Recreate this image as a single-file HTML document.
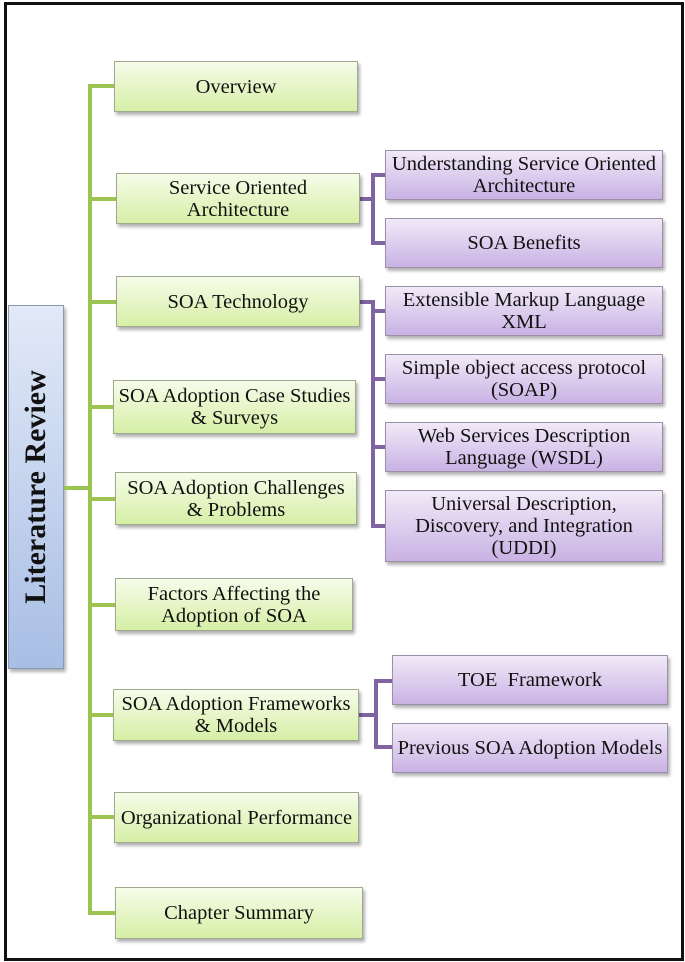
<!DOCTYPE html>
<html><head><style>
body{margin:0;width:685px;height:962px;background:#fff;position:relative;overflow:hidden;font-family:"Liberation Serif","DejaVu Serif",serif;}
.frame{position:absolute;left:4px;top:2px;width:674px;height:953px;border:3px solid #111;}
.b{position:absolute;box-sizing:border-box;display:flex;align-items:center;justify-content:center;text-align:center;font-family:"Liberation Serif","DejaVu Serif",serif;font-size:20.5px;line-height:22px;color:#111;box-shadow:2px 3px 3px rgba(0,0,0,0.3);white-space:nowrap;}
.g{background:linear-gradient(#f6fcea,#d6efa6);border:1px solid #a0a890;}
.p{background:linear-gradient(#f1eaf8,#c9b2e4);border:1px solid #9a90a8;}
.l{position:absolute;}
.gl{background:#9bc453;}
.pl{background:#8064a2;}
</style></head><body>
<div class="frame"></div>
<div class="b" style="left:8px;top:305px;width:56px;height:364px;background:linear-gradient(#e2e9f7,#a8bee5);border:1px solid #8a98b0;">
<div style="transform:rotate(-90deg);white-space:nowrap;font-weight:bold;font-size:30px;">Literature Review</div></div>
<div class="l gl" style="left:64px;top:486px;width:28px;height:4px"></div>
<div class="l gl" style="left:88px;top:84px;width:4px;height:831px"></div>
<div class="l gl" style="left:88px;top:84px;width:27px;height:4px"></div>
<div class="l gl" style="left:88px;top:197px;width:28px;height:4px"></div>
<div class="l gl" style="left:88px;top:300px;width:28px;height:4px"></div>
<div class="l gl" style="left:88px;top:405px;width:26px;height:4px"></div>
<div class="l gl" style="left:88px;top:497px;width:28px;height:4px"></div>
<div class="l gl" style="left:88px;top:603px;width:28px;height:4px"></div>
<div class="l gl" style="left:88px;top:713px;width:26px;height:4px"></div>
<div class="l gl" style="left:88px;top:815px;width:28px;height:4px"></div>
<div class="l gl" style="left:88px;top:911px;width:28px;height:4px"></div>
<div class="l pl" style="left:360px;top:197px;width:15px;height:4px"></div>
<div class="l pl" style="left:371px;top:173px;width:4px;height:72px"></div>
<div class="l pl" style="left:371px;top:173px;width:15px;height:4px"></div>
<div class="l pl" style="left:371px;top:241px;width:15px;height:4px"></div>
<div class="l pl" style="left:360px;top:300px;width:15px;height:4px"></div>
<div class="l pl" style="left:371px;top:300px;width:4px;height:228px"></div>
<div class="l pl" style="left:371px;top:309px;width:15px;height:4px"></div>
<div class="l pl" style="left:371px;top:377px;width:15px;height:4px"></div>
<div class="l pl" style="left:371px;top:445px;width:15px;height:4px"></div>
<div class="l pl" style="left:371px;top:524px;width:15px;height:4px"></div>
<div class="l pl" style="left:358px;top:713px;width:20px;height:4px"></div>
<div class="l pl" style="left:374px;top:679px;width:4px;height:70px"></div>
<div class="l pl" style="left:374px;top:679px;width:18px;height:4px"></div>
<div class="l pl" style="left:374px;top:745px;width:18px;height:4px"></div>
<div class="b g" style="left:114px;top:61px;width:244px;height:51px">Overview</div>
<div class="b g" style="left:116px;top:173px;width:244px;height:51px">Service Oriented<br>Architecture</div>
<div class="b g" style="left:116px;top:276px;width:244px;height:51px">SOA Technology</div>
<div class="b g" style="left:113px;top:380px;width:243px;height:54px">SOA Adoption Case Studies<br>&amp; Surveys</div>
<div class="b g" style="left:115px;top:472px;width:242px;height:53px">SOA Adoption Challenges<br>&amp; Problems</div>
<div class="b g" style="left:115px;top:578px;width:238px;height:53px">Factors Affecting the<br>Adoption of SOA</div>
<div class="b g" style="left:113px;top:689px;width:246px;height:52px">SOA Adoption Frameworks<br>&amp; Models</div>
<div class="b g" style="left:114px;top:792px;width:245px;height:51px">Organizational Performance</div>
<div class="b g" style="left:115px;top:887px;width:248px;height:52px">Chapter Summary</div>
<div class="b p" style="left:385px;top:150px;width:278px;height:50px">Understanding Service Oriented<br>Architecture</div>
<div class="b p" style="left:385px;top:218px;width:278px;height:50px">SOA Benefits</div>
<div class="b p" style="left:385px;top:286px;width:278px;height:50px">Extensible Markup Language<br>XML</div>
<div class="b p" style="left:385px;top:354px;width:278px;height:50px">Simple object access protocol<br>(SOAP)</div>
<div class="b p" style="left:385px;top:422px;width:278px;height:50px">Web Services Description<br>Language (WSDL)</div>
<div class="b p" style="left:385px;top:490px;width:278px;height:72px">Universal Description,<br>Discovery, and Integration<br>(UDDI)</div>
<div class="b p" style="left:392px;top:655px;width:276px;height:50px">TOE&nbsp; Framework</div>
<div class="b p" style="left:392px;top:723px;width:276px;height:50px;">Previous SOA Adoption Models</div>
</body></html>
